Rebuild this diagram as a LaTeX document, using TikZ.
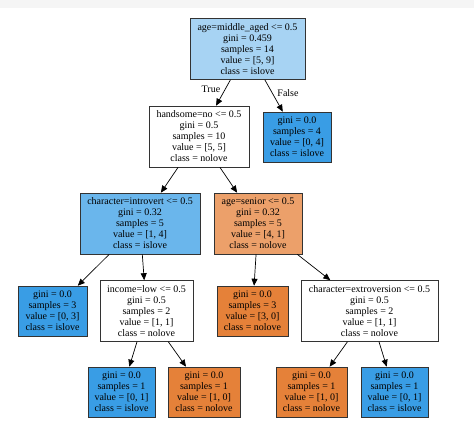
\documentclass[tikz,border=0pt]{standalone}
\usepackage{fontspec}
\setmainfont{Liberation Serif}
\usepackage{tikz}
\usetikzlibrary{arrows.meta}

\definecolor{rootblue}{HTML}{A7D3F3}
\definecolor{midblue}{HTML}{6AB6EC}
\definecolor{leafblue}{HTML}{399DE5}
\definecolor{midorange}{HTML}{ECA06A}
\definecolor{leaforange}{HTML}{E58139}

\tikzset{
  tnode/.style={draw=black!80, line width=0.6pt, align=center, inner xsep=3pt, inner ysep=3pt,
                minimum height=61pt, font=\fontsize{10}{11}\selectfont},
  tleaf/.style={tnode, minimum height=50pt},
  tedge/.style={draw=black, line width=0.7pt, -{Triangle[length=7pt,width=6pt]}},
  tlabel/.style={font=\fontsize{10}{11}\selectfont}
}

\begin{document}
\begin{tikzpicture}[x=1pt,y=-1pt]

  \useasboundingbox (0,0) rectangle (474,421);
  \fill[black!4] (0,0) rectangle (474,8);

  % level 0
  \node[tnode, fill=rootblue, minimum width=115pt] (root) at (247.5,49)
    {age=middle\_aged <= 0.5\\gini = 0.459\\samples = 14\\value = [5, 9]\\class = islove};

  % level 1
  \node[tnode, fill=white, minimum width=100pt] (handsome) at (199,136.5)
    {handsome=no <= 0.5\\gini = 0.5\\samples = 10\\value = [5, 5]\\class = nolove};
  \node[tleaf, fill=leafblue, minimum width=68pt] (leafa) at (297,137)
    {gini = 0.0\\samples = 4\\value = [0, 4]\\class = islove};

  % level 2
  \node[tnode, fill=midblue, minimum width=120pt] (character) at (140,223.5)
    {character=introvert <= 0.5\\gini = 0.32\\samples = 5\\value = [1, 4]\\class = islove};
  \node[tnode, fill=midorange, minimum width=88pt] (senior) at (258,223.5)
    {age=senior <= 0.5\\gini = 0.32\\samples = 5\\value = [4, 1]\\class = nolove};

  % level 3
  \node[tleaf, fill=leafblue, minimum width=69pt] (leafb) at (52.5,311)
    {gini = 0.0\\samples = 3\\value = [0, 3]\\class = islove};
  \node[tnode, fill=white, minimum width=93pt] (income) at (146.5,311)
    {income=low <= 0.5\\gini = 0.5\\samples = 2\\value = [1, 1]\\class = nolove};
  \node[tleaf, fill=leaforange, minimum width=71pt] (leafc) at (252.5,311)
    {gini = 0.0\\samples = 3\\value = [3, 0]\\class = nolove};
  \node[tnode, fill=white, minimum width=137pt] (extro) at (369.5,311)
    {character=extroversion <= 0.5\\gini = 0.5\\samples = 2\\value = [1, 1]\\class = nolove};

  % level 4
  \node[tleaf, fill=leafblue, minimum width=67pt] (leafd) at (121.5,392)
    {gini = 0.0\\samples = 1\\value = [0, 1]\\class = islove};
  \node[tleaf, fill=leaforange, minimum width=72pt] (leafe) at (204,392)
    {gini = 0.0\\samples = 1\\value = [1, 0]\\class = nolove};
  \node[tleaf, fill=leaforange, minimum width=71pt] (leaff) at (311.5,392)
    {gini = 0.0\\samples = 1\\value = [1, 0]\\class = nolove};
  \node[tleaf, fill=leafblue, minimum width=67pt] (leafg) at (394.5,392)
    {gini = 0.0\\samples = 1\\value = [0, 1]\\class = islove};

  % edges
  \draw[tedge] (root) -- (handsome);
  \draw[tedge] (root) -- (leafa);
  \draw[tedge] (handsome) -- (character);
  \draw[tedge] (handsome) -- (senior);
  \draw[tedge] (character) -- (leafb);
  \draw[tedge] (character) -- (income);
  \draw[tedge] (senior) -- (leafc);
  \draw[tedge] (senior) -- (extro);
  \draw[tedge] (income) -- (leafd);
  \draw[tedge] (income) -- (leafe);
  \draw[tedge] (extro) -- (leaff);
  \draw[tedge] (extro) -- (leafg);

  \node[tlabel] (truelbl) at (211,89) {True};
  \node[tlabel] (falselbl) at (288,93) {False};

\end{tikzpicture}
\end{document}
